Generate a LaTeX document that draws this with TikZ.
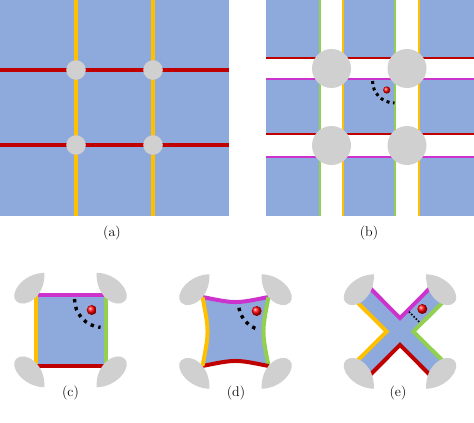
\documentclass[tikz,border=0pt]{standalone}
\usepackage{fontspec}
\usetikzlibrary{calc}

\definecolor{tileblue}{RGB}{142,169,219}
\definecolor{edgered}{RGB}{192,0,0}
\definecolor{edgeyellow}{RGB}{255,192,0}
\definecolor{edgegreen}{RGB}{146,208,80}
\definecolor{edgemagenta}{RGB}{204,51,204}
\definecolor{jointgray}{RGB}{208,208,208}

\tikzset{
    tile/.style={fill=tileblue},
    joint/.style={fill=jointgray},
    wall/.style={line width=4pt},
    seam/.style={line width=2.6pt},
    track/.style={black,line width=3.4pt,dash pattern=on 3.4pt off 4.6pt},
    trackthin/.style={black,line width=3pt,dash pattern=on 3pt off 3.6pt},
    tracktiny/.style={black,line width=1.6pt,dash pattern=on 1.6pt off 1.6pt},
    caption/.style={font=\fontsize{14}{16}\selectfont,anchor=base}
}

% joint around panel centre #1, outward angle #2, sharp tip towards #3
\newcommand{\lens}[3]{%
    \fill[joint] ($(#1)+(#2:59)+(#3:22)$)
        .. controls ($(#1)+(#2:59)+(#3:6)+(#2:15)$) and ($(#1)+(#2:59)+(#3+180:18)+(#2:10)$) .. ($(#1)+(#2:59)+(#3+180:18)$)
        .. controls ($(#1)+(#2:59)+(#3+180:18)+(#2+180:12)$) and ($(#1)+(#2:59)+(#3:6)+(#2+180:18)$) .. cycle;}

\begin{document}
\begin{tikzpicture}[x=1pt,y=-1pt]
            \useasboundingbox (0,0) rectangle (474,423);
            % (a)
            \fill[tile] (0,0) rectangle (229,216);
            \foreach \y in {70,145}
                \draw[wall,edgered] (0,\y) -- (229,\y);
            \foreach \x in {76,153}
                \draw[wall,edgeyellow] (\x,0) -- (\x,216);
            \foreach \x in {76,153}
                \foreach \y in {70,145}
                    \fill[joint] (\x,\y) circle (9.8);
            \node[caption] (capa) at (112,236) {(a)};
            % (b)
            \foreach \xa/\xb in {266/320,343/395,419/474}
                \foreach \ya/\yb in {0/58,79/134,157/216}
                    \fill[tile] (\xa,\ya) rectangle (\xb,\yb);
            \foreach \y in {58,134}
                \draw[seam,edgered] (266,\y) -- (474,\y);
            \foreach \y in {79,157}
                \draw[seam,edgemagenta] (266,\y) -- (474,\y);
            \foreach \x in {320,395}
                \draw[seam,edgegreen] (\x,0) -- (\x,216);
            \foreach \x in {343,419}
                \draw[seam,edgeyellow] (\x,0) -- (\x,216);
            \foreach \x in {331.5,407}
                \foreach \y in {68.5,145.5}
                    \fill[joint] (\x,\y) circle (19.5);
            \draw[trackthin] (372.5,81) arc (180:90:22);
            \shade[ball color=red] (386.7,90) circle (3.6);
            \node[caption] (capb) at (369,236) {(b)};
            % (c)
            \coordinate (cc) at (70.5,330);
            \fill[tile] (35.5,294.5) rectangle (105.5,365.5);
            \draw[wall,edgemagenta] (35.5,294.5) -- (105.5,294.5);
            \draw[wall,edgeyellow] (35.5,294.5) -- (35.5,365.5);
            \draw[wall,edgegreen] (105.5,294.5) -- (105.5,365.5);
            \draw[wall,edgered] (35.5,365.5) -- (105.5,365.5);
            \foreach \a/\s in {225/315,315/225,135/45,45/135}
                \lens{cc}{\a}{\s};
            \draw[track] (74.5,299) arc (180:95:28.5);
            \shade[ball color=red] (91.7,310) circle (5);
            \node[caption] (capc) at (70.5,396) {(c)};
            % (d)
            \coordinate (cd) at (235.5,331.5);
            \coordinate (dtl) at (202.5,297);
            \coordinate (dtr) at (268.5,297);
            \coordinate (dbr) at (268.5,366);
            \coordinate (dbl) at (202.5,366);
            \fill[tile] (dtl) .. controls (235.5,303.7) .. (dtr) .. controls (261.8,331.5) .. (dbr)
                        .. controls (235.5,359.3) .. (dbl) .. controls (209.2,331.5) .. (dtl) -- cycle;
            \draw[wall,edgemagenta] (dtl) .. controls (235.5,303.7) .. (dtr);
            \draw[wall,edgegreen] (dtr) .. controls (261.8,331.5) .. (dbr);
            \draw[wall,edgered] (dbr) .. controls (235.5,359.3) .. (dbl);
            \draw[wall,edgeyellow] (dbl) .. controls (209.2,331.5) .. (dtl);
            \foreach \a/\s in {225/315,315/225,135/45,45/135}
                \lens{cd}{\a}{\s};
            \draw[track] (238.9,307.8) arc (170:105:27.5);
            \shade[ball color=red] (256.7,311) circle (5);
            \node[caption] (capd) at (236,396) {(d)};
            % (e)
            \coordinate (ce) at (400,331.5);
            \coordinate (etop) at ($(ce)+(270:13.4)$);
            \coordinate (eright) at ($(ce)+(0:13.4)$);
            \coordinate (ebottom) at ($(ce)+(90:13.4)$);
            \coordinate (eleft) at ($(ce)+(180:13.4)$);
            \coordinate (etra) at ($(ce)+(315:53)+(225:9.5)$);
            \coordinate (etrb) at ($(ce)+(315:53)+(45:9.5)$);
            \coordinate (ebra) at ($(ce)+(45:53)+(315:9.5)$);
            \coordinate (ebrb) at ($(ce)+(45:53)+(135:9.5)$);
            \coordinate (ebla) at ($(ce)+(135:53)+(45:9.5)$);
            \coordinate (eblb) at ($(ce)+(135:53)+(225:9.5)$);
            \coordinate (etla) at ($(ce)+(225:53)+(135:9.5)$);
            \coordinate (etlb) at ($(ce)+(225:53)+(315:9.5)$);
            \fill[tile] (etop) -- (etra) -- (etrb) -- (eright) -- (ebra) -- (ebrb) -- (ebottom)
                        -- (ebla) -- (eblb) -- (eleft) -- (etla) -- (etlb) -- cycle;
            \draw[wall,edgemagenta] (etlb) -- (etop) -- (etra);
            \draw[wall,edgegreen] (etrb) -- (eright) -- (ebra);
            \draw[wall,edgered] (ebrb) -- (ebottom) -- (ebla);
            \draw[wall,edgeyellow] (eblb) -- (eleft) -- (etla);
            \foreach \a/\s in {225/315,315/225,135/45,45/135}
                \lens{ce}{\a}{\s};
            \draw[tracktiny] (409,311.7) -- (420,322.7);
            \shade[ball color=red] (422.3,309) circle (5);
            \node[caption] (cape) at (398,396) {(e)};
\end{tikzpicture}
\end{document}
